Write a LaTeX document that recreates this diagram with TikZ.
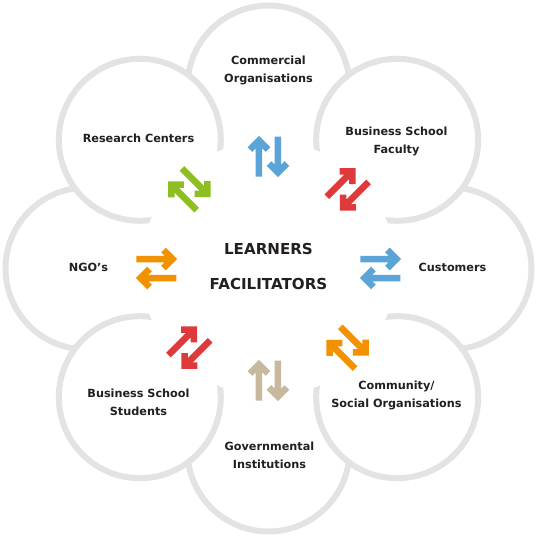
\documentclass[tikz,border=0pt]{standalone}
\usepackage{fontspec}
\setmainfont{DejaVu Sans}
\usepackage{xcolor}
\usetikzlibrary{positioning}

\definecolor{ringgray}{HTML}{E3E3E3}
\definecolor{txtdark}{HTML}{231F20}
\definecolor{arblue}{HTML}{5BA4D8}
\definecolor{argreen}{HTML}{8DBF22}
\definecolor{arred}{HTML}{DF3A3B}
\definecolor{arorange}{HTML}{F39200}
\definecolor{artan}{HTML}{C8B89E}

\tikzset{
  ring/.style={draw=ringgray, line width=3.4pt, fill=white},
  lbl/.style={text=txtdark, font=\fontsize{6.4}{10.5}\selectfont\bfseries, align=center},
  hub/.style={text=txtdark, font=\fontsize{8.6}{10}\selectfont\bfseries},
  swap/.style={line width=3.7pt, miter limit=10},
}

% pair of opposite arrows at angle #1, colour #2
\newcommand{\twoway}[2]{%
  \begin{scope}[shift={(#1:112)}, rotate=#1]
    \draw[swap, draw=#2] (-20,9.5) -- (16,9.5) (7,18.5) -- (16,9.5) -- (7,0.5); % outward
    \draw[swap, draw=#2] (20,-9.5) -- (-16,-9.5) (-7,-0.5) -- (-16,-9.5) -- (-7,-18.5); % inward
  \end{scope}}

\begin{document}
\begin{tikzpicture}[scale=0.02]
    \useasboundingbox (-268.5,-268.5) rectangle (268.5,268.5);
    % outer ring: straight ones first, diagonal ones on top
    \foreach \a in {0,90,180,270}
        \draw[ring] (\a:182) circle (81);
    \foreach \a in {45,135,225,315}
        \draw[ring] (\a:182) circle (81);
    \fill[white] (0,0) circle (127.5); % clears the inner arcs

    \twoway{90}{arblue}
    \twoway{135}{argreen}
    \twoway{45}{arred}
    \twoway{180}{arorange}
    \twoway{0}{arblue}
    \twoway{225}{arred}
    \twoway{315}{arorange}
    \twoway{270}{artan}

    \node[hub] (learn) at (0,19.7) {LEARNERS};
    \node[hub] (facil) at (0,-15) {FACILITATORS};

    \node[lbl] (comm) at (0,198) {Commercial\\Organisations};
    \node[lbl] (rsrch) at (-130,130) {Research Centers};
    \node[lbl] (fac) at (128,127) {Business School\\Faculty};
    \node[lbl] (ngo) at (-180,1.5) {NGO’s};
    \node[lbl] (cust) at (184,1.5) {Customers};
    \node[lbl] (stud) at (-130,-134) {Business School\\Students};
    \node[lbl] (cmty) at (128,-127) {Community/\\Social Organisations};
    \node[lbl] (gov) at (1,-187) {Governmental\\Institutions};
\end{tikzpicture}
\end{document}
